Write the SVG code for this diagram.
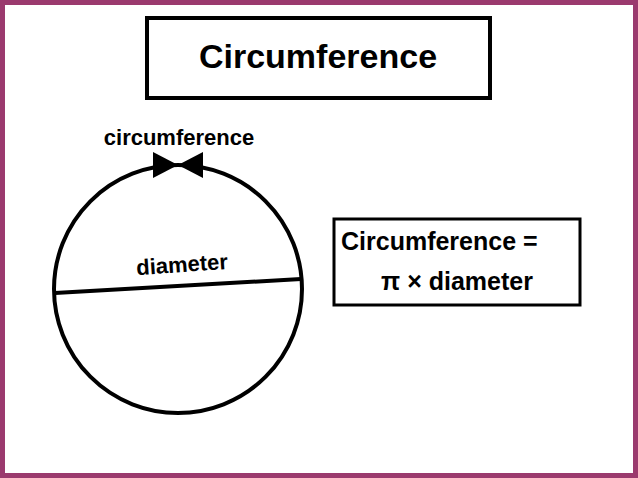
<svg xmlns="http://www.w3.org/2000/svg" width="638" height="478" viewBox="0 0 638 478">
<style>
text{font-family:"Liberation Sans",Arial,sans-serif;font-weight:bold;fill:#000}
.box{fill:#fff;stroke:#000}
</style>
<rect x="2.5" y="2.5" width="633" height="473" fill="#fff" stroke="#9b3a6e" stroke-width="5"/>
<g id="title"><rect class="box" x="147" y="18" width="343" height="80" stroke-width="4"/><text x="318" y="59" font-size="34" text-anchor="middle" dominant-baseline="middle">Circumference</text></g>
<g id="circle"><circle cx="178" cy="289" r="124" fill="none" stroke="#000" stroke-width="4"/></g>
<g id="connectors">
<line x1="55" y1="293" x2="301" y2="279" stroke="#000" stroke-width="4"/>
<polygon points="153,152 178,165 153,178"/>
<polygon points="203,152 178,165 203,178"/>
</g>
<g id="labels">
<text x="179" y="145" font-size="22" text-anchor="middle">circumference</text>
<text x="182" y="272" font-size="22" text-anchor="middle" transform="rotate(-4 182 265)">diameter</text>
</g>
<g id="formula"><rect class="box" x="334" y="219" width="246" height="86" stroke-width="3"/>
<text x="341" y="250" font-size="25">Circumference =</text>
<text x="457" y="290" font-size="25" text-anchor="middle">π × diameter</text></g>
</svg>
